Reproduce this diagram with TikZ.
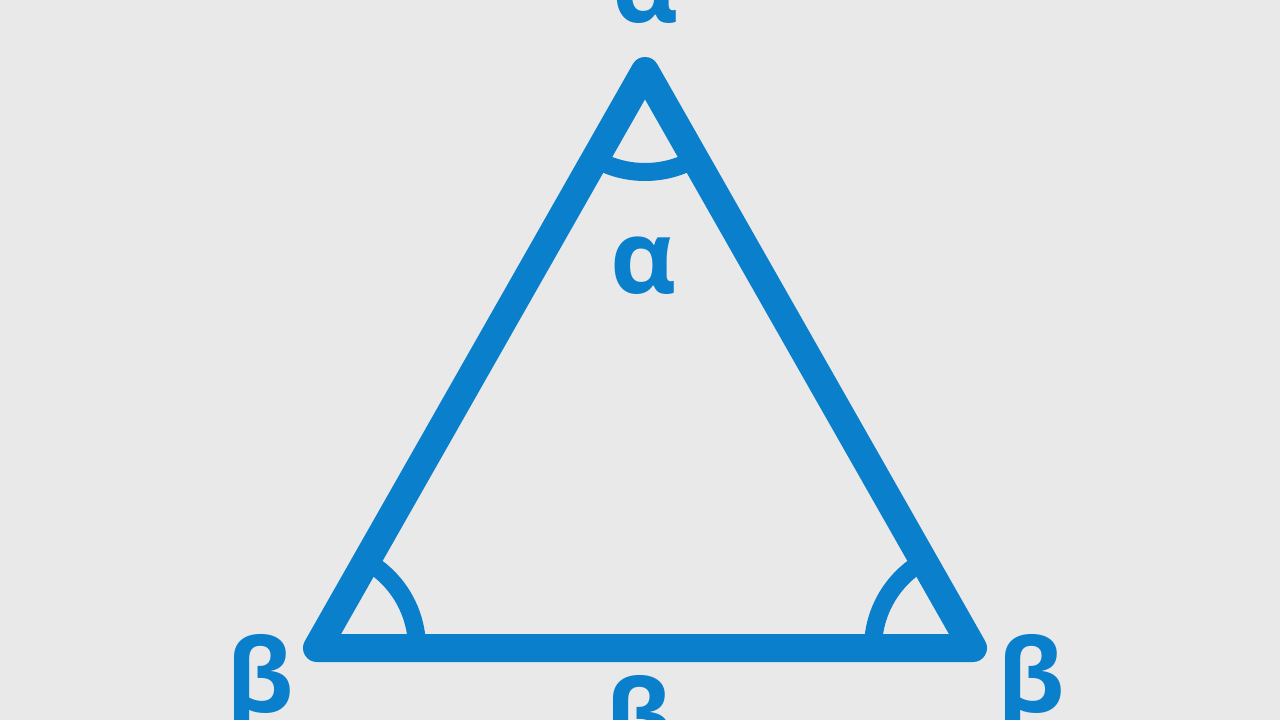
\documentclass[tikz,border=0pt]{standalone}
\usepackage{fontspec}
\setmainfont{Open Sans}
\definecolor{tri}{HTML}{0A7FCC}
\definecolor{bg}{HTML}{E9E9E9}
\begin{document}
\begin{tikzpicture}[x=1pt,y=-1pt,
  lab/.style={text=tri, font=\fontsize{102}{102}\selectfont\bfseries, inner sep=0pt, anchor=base},
  edge/.style={draw=tri, line width=28pt, line join=round},
  anglearc/.style={draw=tri, line width=18pt}]
\fill[bg] (0,0) rectangle (1280,720);
\useasboundingbox (0,0) rectangle (1280,720);
\coordinate (A) at (645,71);
\coordinate (B) at (317,648);
\coordinate (C) at (973,648);
\begin{scope}
  \clip (A) -- (B) -- (C) -- cycle;
  \draw[anglearc] (A) circle [radius=101];
  \draw[anglearc] (B) circle [radius=100];
  \draw[anglearc] (C) circle [radius=100];
\end{scope}
\draw[edge] (A) -- (B) -- (C) -- cycle;
\node[lab] (atop) at (645,23) {α};
\node[lab] (ain) at (643,293) {α};
\node[lab] (bl) at (260,712) {β};
\node[lab] (br) at (1031,712) {β};
\node[lab] (bb) at (639,753) {β};
\end{tikzpicture}
\end{document}
